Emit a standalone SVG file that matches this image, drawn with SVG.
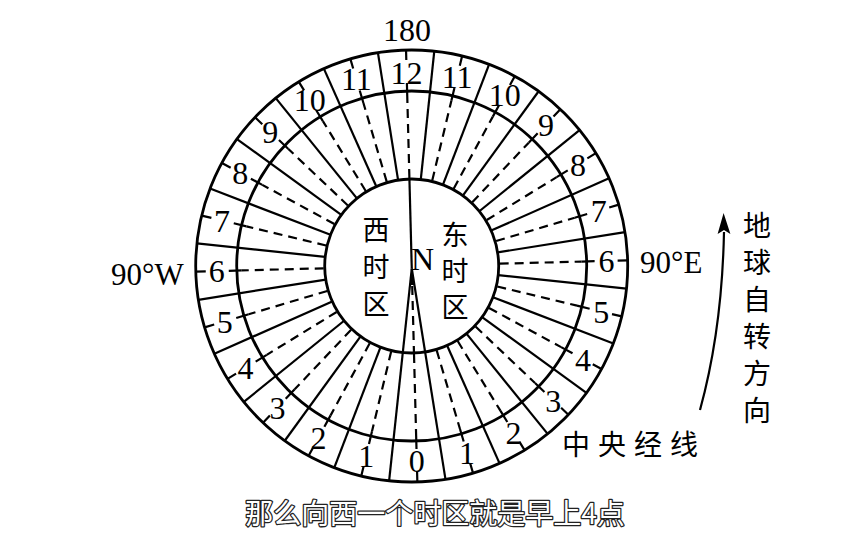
<svg xmlns="http://www.w3.org/2000/svg" width="864" height="540" viewBox="0 0 864 540">
<style>
.ring{fill:none;stroke:#000;stroke-width:2.8}
.ln{stroke:#000;stroke-width:2.2;fill:none}
.ds{stroke:#000;stroke-width:2.2;fill:none;stroke-dasharray:9 6}
.n{font-family:"Liberation Serif","Times New Roman",serif;font-size:32px;text-anchor:middle;fill:#000}
.lb{font-family:"Liberation Serif","Times New Roman",serif;font-size:31px;fill:#000}
.cj{font-family:"Noto Sans CJK SC","Noto Sans CJK TC",sans-serif;font-size:27px;text-anchor:middle;fill:#000}
.sub{font-family:"Noto Sans CJK SC","Noto Sans CJK TC",sans-serif;font-size:28px;text-anchor:middle;fill:#fff;stroke:#222;stroke-width:2.5;paint-order:stroke;stroke-linejoin:round}
</style>
<defs>
<line id="bd" class="ln" x1="411.7" y1="353" x2="411.7" y2="482"/>
<line id="md" class="ds" x1="411.7" y1="354" x2="411.7" y2="436"/>
<path id="tk" class="ln" d="M411.7,436 V449 M411.7,472 V482"/>
</defs>
<rect width="864" height="540" fill="#fff"/>
<g id="dial">
<circle class="ring" cx="411.7" cy="266" r="216"/>
<circle class="ring" cx="411.7" cy="266" r="175"/>
<circle class="ring" cx="411.7" cy="266" r="87"/>
<g transform="rotate(-1.5 411.7 266)">
<g id="boundaries">
<use href="#bd" transform="rotate(22.5 411.7 266)"/>
<use href="#bd" transform="rotate(37.5 411.7 266)"/>
<use href="#bd" transform="rotate(52.5 411.7 266)"/>
<use href="#bd" transform="rotate(67.5 411.7 266)"/>
<use href="#bd" transform="rotate(82.5 411.7 266)"/>
<use href="#bd" transform="rotate(97.5 411.7 266)"/>
<use href="#bd" transform="rotate(112.5 411.7 266)"/>
<use href="#bd" transform="rotate(127.5 411.7 266)"/>
<use href="#bd" transform="rotate(142.5 411.7 266)"/>
<use href="#bd" transform="rotate(157.5 411.7 266)"/>
<use href="#bd" transform="rotate(172.5 411.7 266)"/>
<use href="#bd" transform="rotate(187.5 411.7 266)"/>
<use href="#bd" transform="rotate(202.5 411.7 266)"/>
<use href="#bd" transform="rotate(217.5 411.7 266)"/>
<use href="#bd" transform="rotate(232.5 411.7 266)"/>
<use href="#bd" transform="rotate(247.5 411.7 266)"/>
<use href="#bd" transform="rotate(262.5 411.7 266)"/>
<use href="#bd" transform="rotate(277.5 411.7 266)"/>
<use href="#bd" transform="rotate(292.5 411.7 266)"/>
<use href="#bd" transform="rotate(307.5 411.7 266)"/>
<use href="#bd" transform="rotate(322.5 411.7 266)"/>
<use href="#bd" transform="rotate(337.5 411.7 266)"/>
<line class="ln" x1="411.7" y1="268.5" x2="383.5" y2="480.2"/>
<line class="ln" x1="411.7" y1="268.5" x2="439.9" y2="480.2"/>
<polygon points="411.7,268.5 409.6,285 414.2,285" fill="#000"/>
<line class="ln" x1="411.7" y1="179" x2="411.7" y2="268.5"/>
<line class="ds" x1="411.7" y1="286" x2="411.7" y2="353"/>
</g>
<g id="meridians">
<use href="#md"/><use href="#tk"/>
<use href="#md" transform="rotate(15 411.7 266)"/><use href="#tk" transform="rotate(15 411.7 266)"/>
<use href="#md" transform="rotate(30 411.7 266)"/><use href="#tk" transform="rotate(30 411.7 266)"/>
<use href="#md" transform="rotate(45 411.7 266)"/><use href="#tk" transform="rotate(45 411.7 266)"/>
<use href="#md" transform="rotate(60 411.7 266)"/><use href="#tk" transform="rotate(60 411.7 266)"/>
<use href="#md" transform="rotate(75 411.7 266)"/><use href="#tk" transform="rotate(75 411.7 266)"/>
<use href="#md" transform="rotate(90 411.7 266)"/><use href="#tk" transform="rotate(90 411.7 266)"/>
<use href="#md" transform="rotate(105 411.7 266)"/><use href="#tk" transform="rotate(105 411.7 266)"/>
<use href="#md" transform="rotate(120 411.7 266)"/><use href="#tk" transform="rotate(120 411.7 266)"/>
<use href="#md" transform="rotate(135 411.7 266)"/><use href="#tk" transform="rotate(135 411.7 266)"/>
<use href="#md" transform="rotate(150 411.7 266)"/><use href="#tk" transform="rotate(150 411.7 266)"/>
<use href="#md" transform="rotate(165 411.7 266)"/><use href="#tk" transform="rotate(165 411.7 266)"/>
<use href="#md" transform="rotate(180 411.7 266)"/><use href="#tk" transform="rotate(180 411.7 266)"/>
<use href="#md" transform="rotate(195 411.7 266)"/><use href="#tk" transform="rotate(195 411.7 266)"/>
<use href="#md" transform="rotate(210 411.7 266)"/><use href="#tk" transform="rotate(210 411.7 266)"/>
<use href="#md" transform="rotate(225 411.7 266)"/><use href="#tk" transform="rotate(225 411.7 266)"/>
<use href="#md" transform="rotate(240 411.7 266)"/><use href="#tk" transform="rotate(240 411.7 266)"/>
<use href="#md" transform="rotate(255 411.7 266)"/><use href="#tk" transform="rotate(255 411.7 266)"/>
<use href="#md" transform="rotate(270 411.7 266)"/><use href="#tk" transform="rotate(270 411.7 266)"/>
<use href="#md" transform="rotate(285 411.7 266)"/><use href="#tk" transform="rotate(285 411.7 266)"/>
<use href="#md" transform="rotate(300 411.7 266)"/><use href="#tk" transform="rotate(300 411.7 266)"/>
<use href="#md" transform="rotate(315 411.7 266)"/><use href="#tk" transform="rotate(315 411.7 266)"/>
<use href="#md" transform="rotate(330 411.7 266)"/><use href="#tk" transform="rotate(330 411.7 266)"/>
<use href="#md" transform="rotate(345 411.7 266)"/><use href="#tk" transform="rotate(345 411.7 266)"/>
</g>
</g>
</g>
<g id="zone-numbers">
<text class="n" x="416.8" y="472">0</text>
<text class="n" x="467.1" y="464">1</text>
<text class="n" x="513.6" y="443.5">2</text>
<text class="n" x="553.2" y="411.5">3</text>
<text class="n" x="583.1" y="370.5">4</text>
<text class="n" x="601.3" y="323">5</text>
<text class="n" x="606.6" y="272">6</text>
<text class="n" x="598.7" y="222">7</text>
<text class="n" x="578" y="175.5">8</text>
<text class="n" x="545.9" y="136">9</text>
<text class="n" x="504.8" y="106">10</text>
<text class="n" x="457.2" y="88">11</text>
<text class="n" x="406.6" y="84">12</text>
<text class="n" x="366.2" y="467">1</text>
<text class="n" x="318.6" y="448.5">2</text>
<text class="n" x="277.5" y="418.5">3</text>
<text class="n" x="245.4" y="379">4</text>
<text class="n" x="224.7" y="332.5">5</text>
<text class="n" x="216.8" y="282">6</text>
<text class="n" x="222.1" y="231.5">7</text>
<text class="n" x="240.3" y="184">8</text>
<text class="n" x="270.2" y="143">9</text>
<text class="n" x="309.8" y="111">10</text>
<text class="n" x="356.3" y="90">11</text>
</g>
<g id="label-180"><text class="n" x="407" y="41">180</text></g>
<g id="label-90W"><text class="lb" x="111" y="285">90°W</text></g>
<g id="label-90E"><text class="lb" x="640" y="273">90°E</text></g>
<g id="label-N"><text class="n" x="422.5" y="270">N</text></g>
<g id="label-west">
<text class="cj" x="376" y="240">西</text>
<text class="cj" x="376" y="277">时</text>
<text class="cj" x="376" y="314">区</text>
</g>
<g id="label-east">
<text class="cj" x="455" y="245">东</text>
<text class="cj" x="455" y="281">时</text>
<text class="cj" x="455" y="317">区</text>
</g>
<g id="label-rotation">
<text class="cj" style="font-size:28px" x="757" y="236">地</text>
<text class="cj" style="font-size:28px" x="757" y="273">球</text>
<text class="cj" style="font-size:28px" x="757" y="310">自</text>
<text class="cj" style="font-size:28px" x="757" y="347">转</text>
<text class="cj" style="font-size:28px" x="757" y="384">方</text>
<text class="cj" style="font-size:28px" x="757" y="421">向</text>
</g>
<g id="label-central"><text class="cj" style="text-anchor:start;letter-spacing:8px;font-size:28px" x="562" y="455">中央经线</text></g>
<g id="connectors">
<path class="ln" d="M700,410 Q722,330 724,232"/>
<polygon points="723.6,213 730.4,234 724,230 717.6,234" fill="#000"/>
</g>
<g id="subtitle"><text class="sub" x="435" y="524">那么向西一个时区就是早上4点</text></g>
</svg>
